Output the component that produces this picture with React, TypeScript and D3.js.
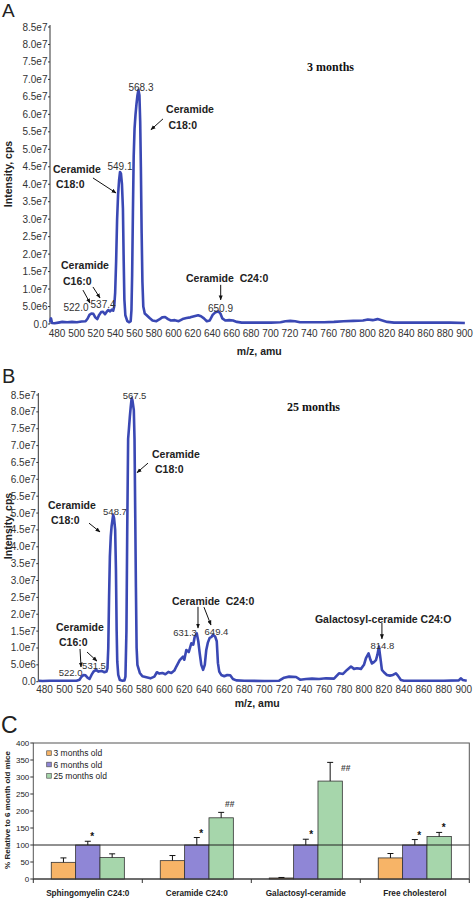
import React from 'react';
import * as d3 from 'd3';

const W = 474;
const H = 899;

// ---------- Spectra (m/z, intensity in units of 1e6 cps) ----------
const mzTicks = d3.range(480, 901, 20);
const intensityTicks = d3.range(0, 18).map((i) => i * 0.5e7);

const spectrumA: [number, number][] = [
  [477.4, 0.5], [478.4, 1.6], [479.4, 0.3], [482, 0.2], [486, 0.4], [490, 0.6], [495, 0.5], [500, 0.6],
  [505, 0.5], [510, 0.7], [514, 0.8], [516, 1.5], [518, 2.6], [520, 3.0], [522, 2.9], [524, 1.9],
  [526, 1.4], [528, 2.6], [530, 3.4], [532, 3.5], [534, 2.8], [536, 3.6], [537.5, 4.0], [539, 3.6],
  [541, 4.1], [542.5, 3.8], [543.5, 5], [544.5, 9], [545.5, 18], [546.5, 30], [547.5, 37], [548.5, 41],
  [549.5, 43.5], [550.5, 43], [551.5, 40], [552.5, 33], [553.3, 18], [554, 7], [555, 2.5], [557, 0.8],
  [559, 0.5], [560.5, 0.8], [561.3, 4], [562, 14], [562.8, 32], [563.6, 48], [564.5, 56], [565.5, 60],
  [566.5, 63], [567.5, 65.5], [568.5, 67], [569.5, 65.5], [570.3, 58], [571, 45], [571.8, 26], [572.6, 12],
  [573.5, 5], [575, 3], [577, 2.5], [580, 1.7], [583, 1.0], [587, 0.8], [590, 1.3], [593, 1.9],
  [596, 2.0], [599, 1.4], [602, 1.0], [606, 1.1], [610, 0.8], [614, 1.4], [618, 1.7], [622, 1.9],
  [626, 2.2], [630, 2.5], [633, 2.2], [636, 1.6], [639, 0.8], [642, 1.0], [645, 2.6], [648, 3.4],
  [651, 3.6], [653, 3.0], [655, 1.6], [658, 1.0], [662, 1.1], [666, 1.0], [670, 0.6], [675, 0.4],
  [690, 0.4], [705, 0.4], [715, 0.5], [720, 0.8], [725, 0.9], [730, 0.8], [735, 0.5], [745, 0.5],
  [760, 0.5], [770, 0.6], [780, 0.8], [790, 0.9], [800, 1.0], [805, 1.3], [810, 1.1], [815, 1.4],
  [820, 1.0], [825, 0.6], [832, 0.4], [845, 0.4], [860, 0.4], [875, 0.4], [890, 0.4], [905, 0.3],
];

const spectrumB: [number, number][] = [
  [474, 0.3], [478, 0.2], [485, 0.3], [495, 0.3], [505, 0.3], [512, 0.3], [515, 0.6], [517, 1.5],
  [519, 2.0], [521, 1.9], [523, 1.2], [525, 0.8], [527, 2.0], [529, 3.0], [531.5, 3.5], [534, 3.0],
  [537, 3.2], [540, 2.8], [542, 3.0], [543, 4], [543.8, 10], [544.6, 25], [545.4, 37], [546.3, 43],
  [547.1, 46], [548, 48], [548.7, 49.5], [549.6, 48.5], [550.7, 45], [551.5, 33], [552.2, 15], [552.8, 6],
  [553.8, 2], [555.4, 0.5], [558, 0.3], [560, 0.4], [561, 1.5], [562, 15], [562.8, 45], [563.7, 72],
  [564.5, 75], [565.4, 78.5], [566.3, 81.5], [567.2, 84], [568, 83.5], [569.4, 80.5], [570.1, 72], [570.8, 50],
  [571.5, 28], [572.2, 10], [573, 5], [575.4, 2.6], [578, 1.6], [582, 1.3], [586, 1.0], [590, 1.5],
  [592.5, 2.8], [595, 2.4], [598, 2.6], [601, 2.2], [604, 2.9], [607, 2.6], [610, 3.3], [612, 4.5],
  [615.4, 6.4], [618.7, 7.4], [620, 6.5], [622, 9.4], [624.5, 8.8], [627, 11.4], [629, 11], [630.4, 13.3],
  [632.5, 14.3], [634, 12], [635.4, 8.5], [637, 5], [638.8, 3.5], [640.5, 5], [642, 9.4], [643.5, 11.5],
  [645.4, 13], [647, 13.2], [648.7, 13.9], [651, 13.3], [652.5, 12], [653.7, 5.5], [655, 3], [657, 2],
  [660, 1.6], [663, 2], [666, 1.9], [668.7, 0.8], [672, 0.4], [680, 0.3], [700, 0.2], [715, 0.3],
  [720, 1.2], [725, 1.5], [732, 1.4], [736, 0.6], [742, 0.8], [748, 0.9], [755, 0.8], [762, 1.0],
  [770, 0.9], [775, 2.5], [779, 2.3], [783, 3.5], [787, 4.5], [790, 3.8], [793, 4.0], [797, 3.8],
  [800, 5.0], [802, 7.0], [804.6, 8.4], [806.5, 6.5], [808, 5.4], [810, 5.8], [812, 6.4], [813.5, 8],
  [815, 10.4], [816.5, 7], [818, 3.5], [820, 2.8], [823, 2.0], [826, 1.8], [829, 2.0], [832, 2.5],
  [834, 1.8], [837, 0.5], [840, 0.3], [860, 0.3], [880, 0.3], [895, 0.4], [897, 1.0], [899, 0.5], [903, 0.3],
];

type Note = { t: string; mz: number; v: number; b?: boolean; mid?: boolean };

// annotation anchors in data units (m/z, intensity x1e7)
const notesA: Note[] = [
  { t: '568.3', mz: 571.1, v: 6.66, mid: true },
  { t: 'Ceramide', mz: 597.0, v: 6.03, b: true },
  { t: 'C18:0', mz: 599.5, v: 5.57, b: true },
  { t: '549.1', mz: 549.5, v: 4.4, mid: true },
  { t: 'Ceramide', mz: 480.4, v: 4.31, b: true },
  { t: 'C18:0', mz: 483.5, v: 3.88, b: true },
  { t: 'Ceramide', mz: 488.7, v: 1.58, b: true },
  { t: 'C16:0', mz: 490.7, v: 1.13, b: true },
  { t: '522.0', mz: 504.1, v: 0.358, mid: true },
  { t: '537.4', mz: 532.0, v: 0.444, mid: true },
  { t: 'Ceramide  C24:0', mz: 617.5, v: 1.21, b: true },
  { t: '650.9', mz: 653.1, v: 0.33, mid: true },
];
const arrowsA: [number, number, number, number][] = [
  [593.8, 5.87, 581.4, 5.56],
  [521.6, 4.18, 545.4, 3.75],
  [511.3, 0.97, 518.6, 0.6],
  [521.6, 1.06, 528.9, 0.745],
  [653.3, 1.12, 653.3, 0.69],
];

const notesB: Note[] = [
  { t: '567.5', mz: 570.1, v: 8.38, mid: true },
  { t: 'Ceramide', mz: 587.6, v: 6.64, b: true },
  { t: 'C18:0', mz: 590.6, v: 6.2, b: true },
  { t: '548.7', mz: 550.5, v: 4.94, mid: true },
  { t: 'Ceramide', mz: 483.4, v: 5.13, b: true },
  { t: 'C18:0', mz: 486.4, v: 4.68, b: true },
  { t: 'Ceramide', mz: 491.4, v: 1.51, b: true },
  { t: 'C16:0', mz: 494.4, v: 1.05, b: true },
  { t: '522.0', mz: 506, v: 0.163, mid: true },
  { t: '531.5', mz: 529.5, v: 0.37, mid: true },
  { t: 'Ceramide  C24:0', mz: 607.7, v: 2.27, b: true },
  { t: '631.3', mz: 620.7, v: 1.36, mid: true },
  { t: '649.4', mz: 652.2, v: 1.38, mid: true },
  { t: 'Galactosyl-ceramide C24:O', mz: 750.9, v: 1.73, b: true },
  { t: '814.8', mz: 818.5, v: 0.955, mid: true },
];
const arrowsB: [number, number, number, number][] = [
  [583.6, 6.48, 572.6, 6.2],
  [524.5, 4.7, 535.5, 4.44],
  [515.5, 0.97, 516.5, 0.436],
  [522.5, 0.88, 532.5, 0.61],
  [633.7, 2.22, 633.7, 1.59],
  [639.7, 2.21, 646.7, 1.68],
  [818.0, 1.74, 818.0, 1.27],
];

// ---------- Bar chart ----------
const categories = ['Sphingomyelin C24:0', 'Ceramide C24:0', 'Galactosyl-ceramide', 'Free cholesterol'];
const seriesNames = ['3 months old', '6 months old', '25 months old'];
const seriesColors = ['#F7B467', '#8F86D6', '#A6D6AB'];
const means3 = [49, 54, 3, 62];
const errs3 = [13, 15, 1.5, 13];
const means6 = [100, 100, 100, 100];
const errs6 = [11, 22, 17, 16];
const means25 = [63, 180, 288, 125];
const errs25 = [11, 16, 55, 12];
const barTicks = d3.range(0, 401, 50);
// significance marks: category, series, text, level (data units, null = above error bar), dx px
const sigMarks: { c: number; s: number; t: string; level: number | null; dx: number }[] = [
  { c: 0, s: 1, t: '*', level: null, dx: 4.5 },
  { c: 1, s: 1, t: '*', level: null, dx: 4.5 },
  { c: 1, s: 2, t: '##', level: 222, dx: 8.5 },
  { c: 2, s: 1, t: '*', level: null, dx: 5.5 },
  { c: 2, s: 2, t: '##', level: 326, dx: 15.5 },
  { c: 3, s: 1, t: '*', level: null, dx: 4.5 },
  { c: 3, s: 2, t: '*', level: null, dx: 4.5 },
];

const SANS = '"Liberation Sans", Arial, sans-serif';
const SERIF = '"Liberation Serif", "Times New Roman", serif';
const LINE = '#3a48b4';

function fmtE(v: number) {
  if (v === 0) return '0.0';
  const e = Math.floor(Math.log10(v) + 1e-9);
  return (v / Math.pow(10, e)).toFixed(1) + 'e' + e;
}

type SpecProps = {
  data: [number, number][];
  x: d3.ScaleLinear<number, number>;
  y: d3.ScaleLinear<number, number>;
  axisLeft: number;
  labelDx: number;
  notes: Note[];
  arrows: [number, number, number, number][];
  title: string;
  titleMz: number;
  titleV: number;
  yTitleCenter: number;
  xTitleY: number;
  numSize: number;
  tickDy: number;
};

function Spectrum(p: SpecProps) {
  const { data, x, y, axisLeft, labelDx, notes, arrows } = p;
  const line = d3
    .line<[number, number]>()
    .x((d) => x(d[0]))
    .y((d) => y(d[1] * 1e6))
    .curve(d3.curveLinear);
  const y0 = y(0);
  const yTop = y(8.5e7);
  return (
    <g>
      <line x1={axisLeft} x2={axisLeft} y1={yTop - 2} y2={y0} stroke="#333" strokeWidth={1} />
      {intensityTicks.map((t) => (
        <g key={t}>
          <line x1={axisLeft - 2} x2={axisLeft} y1={y(t)} y2={y(t)} stroke="#333" />
          <text x={axisLeft - 2.5} y={y(t) + 3.5} textAnchor="end" fontSize={10} fill="#333" fontFamily={SANS}>
            {fmtE(t)}
          </text>
        </g>
      ))}
      {mzTicks.map((t) => (
        <text key={t} x={x(t) + labelDx} y={y0 + p.tickDy} textAnchor="middle" fontSize={10} fill="#333" fontFamily={SANS}>
          {t}
        </text>
      ))}
      <path d={line(data) || ''} fill="none" stroke={LINE} strokeWidth={2.6} strokeLinejoin="round" />
      {notes.map((n, i) => (
        <text
          key={i}
          x={x(n.mz)}
          y={y(n.v * 1e7)}
          textAnchor={n.mid ? 'middle' : 'start'}
          fontSize={n.b ? 10.5 : p.numSize}
          fontWeight={n.b ? 'bold' : 'normal'}
          fill={n.b ? '#222' : '#333'}
          fontFamily={SANS}
          style={{ whiteSpace: 'pre' }}
        >
          {n.t}
        </text>
      ))}
      {arrows.map((a, i) => (
        <line
          key={i}
          x1={x(a[0])}
          y1={y(a[1] * 1e7)}
          x2={x(a[2])}
          y2={y(a[3] * 1e7)}
          stroke="#111"
          strokeWidth={1}
          markerEnd="url(#ah)"
        />
      ))}
      <text x={x(p.titleMz)} y={y(p.titleV * 1e7)} fontSize={12} fontWeight="bold" fontFamily={SERIF} fill="#111">
        {p.title}
      </text>
      <text
        x={(x(480) + x(900)) / 2 + 3}
        y={p.xTitleY}
        textAnchor="middle"
        fontSize={10.5}
        fontWeight="bold"
        fontFamily={SANS}
        fill="#222"
      >
        m/z, amu
      </text>
      <text
        transform={`translate(11.5, ${p.yTitleCenter}) rotate(-90)`}
        textAnchor="middle"
        fontSize={10.5}
        fontWeight="bold"
        fontFamily={SANS}
        fill="#222"
      >
        Intensity, cps
      </text>
    </g>
  );
}

export default function App() {
  const xA = d3.scaleLinear().domain([480, 900]).range([52.6, 52.6 + 420 * 0.97]);
  const yA = d3.scaleLinear().domain([0, 8.5e7]).range([324, 27]);
  const xB = d3.scaleLinear().domain([480, 900]).range([44.6, 44.6 + 420 * 0.998]);
  const yB = d3.scaleLinear().domain([0, 8.5e7]).range([681.7, 395]);

  const cLeft = 33.3;
  const cRight = 469.3;
  const xC = d3.scaleBand<string>().domain(categories).range([cLeft, cRight]);
  const yC = d3.scaleLinear().domain([0, 400]).range([879, 743]);
  const barW = xC.bandwidth() * 0.2235;
  const barOff = (xC.bandwidth() - 3 * barW) / 2;
  const series = [
    { name: seriesNames[0], means: means3, errs: errs3, color: seriesColors[0] },
    { name: seriesNames[1], means: means6, errs: errs6, color: seriesColors[1] },
    { name: seriesNames[2], means: means25, errs: errs25, color: seriesColors[2] },
  ];
  const barX = (c: number, s: number) => (xC(categories[c]) as number) + barOff + s * barW;

  return (
    <svg
      width={W}
      height={H}
      viewBox={`0 0 ${W} ${H}`}
      style={{ position: 'absolute', left: 0, top: 0, display: 'block', background: '#fff' }}
    >
      <defs>
        <marker id="ah" viewBox="0 0 10 10" refX="9" refY="5" markerWidth="5" markerHeight="5" orient="auto">
          <path d="M0,1 L10,5 L0,9 z" fill="#111" />
        </marker>
      </defs>
      <rect x={0} y={0} width={W} height={H} fill="#fff" />

      {/* Panel letters */}
      <text x={2} y={17} fontSize={19} fontFamily={SANS} fill="#222">A</text>
      <text x={2} y={383} fontSize={20} fontFamily={SANS} fill="#222">B</text>
      <text x={1} y={733} fontSize={23} fontFamily={SANS} fill="#222">C</text>

      <Spectrum
        data={spectrumA}
        x={xA}
        y={yA}
        axisLeft={50}
        labelDx={4.5}
        notes={notesA}
        arrows={arrowsA}
        title="3 months"
        titleMz={742.3}
        titleV={7.23}
        yTitleCenter={174}
        xTitleY={355}
        numSize={10}
        tickDy={12.5}
      />
      <Spectrum
        data={spectrumB}
        x={xB}
        y={yB}
        axisLeft={38.3}
        labelDx={0}
        notes={notesB}
        arrows={arrowsB}
        title="25 months"
        titleMz={722.9}
        titleV={8.02}
        yTitleCenter={526}
        xTitleY={706.5}
        numSize={9.5}
        tickDy={11.5}
      />

      {/* Panel C */}
      <g>
        <rect x={cLeft} y={yC(400)} width={cRight - cLeft} height={yC(0) - yC(400)} fill="none" stroke="#555" strokeWidth={1} />
        {barTicks.map((t) => (
          <g key={t}>
            <line x1={cLeft - 3} x2={cLeft} y1={yC(t)} y2={yC(t)} stroke="#333" />
            <text x={cLeft - 4} y={yC(t) + 3} textAnchor="end" fontSize={8} fill="#222" fontFamily={SANS}>
              {t}
            </text>
          </g>
        ))}
        {d3.range(0, categories.length + 1).map((i) => {
          const xx = i < categories.length ? (xC(categories[i]) as number) : cRight;
          return <line key={i} x1={xx} x2={xx} y1={yC(0)} y2={yC(0) + 4} stroke="#333" />;
        })}
        {series.map((s, si) =>
          categories.map((c, ci) => {
            const bx = barX(ci, si);
            const top = yC(s.means[ci]);
            const et = yC(s.means[ci] + s.errs[ci]);
            const cx = bx + barW / 2;
            return (
              <g key={`${si}-${ci}`}>
                <rect x={bx} y={top} width={barW} height={yC(0) - top} fill={s.color} stroke="#333" strokeWidth={0.8} />
                <line x1={cx} x2={cx} y1={top} y2={et} stroke="#111" strokeWidth={1} />
                <line x1={cx - 3} x2={cx + 3} y1={et} y2={et} stroke="#111" strokeWidth={1} />
              </g>
            );
          })
        )}
        <line x1={cLeft} x2={cRight} y1={yC(100)} y2={yC(100)} stroke="#222" strokeWidth={1} />
        <line x1={cLeft} x2={cRight} y1={yC(0)} y2={yC(0)} stroke="#333" strokeWidth={1} />
        {sigMarks.map((m, i) => {
          const s = series[m.s];
          const cx = barX(m.c, m.s) + barW / 2 + m.dx;
          const cy = m.level === null ? yC(s.means[m.c] + s.errs[m.c]) - 7 : yC(m.level);
          return (
            <text
              key={i}
              x={cx}
              y={cy}
              textAnchor="middle"
              dominantBaseline="central"
              fontSize={m.t === '*' ? 10 : 8.5}
              fontWeight="bold"
              fill={m.t === '*' ? '#111' : '#444'}
              fontFamily={SANS}
              dy={m.t === '*' ? 2.5 : 0}
            >
              {m.t}
            </text>
          );
        })}
        {categories.map((c) => (
          <text
            key={c}
            x={(xC(c) as number) + xC.bandwidth() / 2}
            y={895.5}
            textAnchor="middle"
            fontSize={8.2}
            fontWeight="bold"
            fill="#222"
            fontFamily={SANS}
          >
            {c}
          </text>
        ))}
        {series.map((s, i) => (
          <g key={s.name}>
            <rect x={46.7} y={753.3 + i * 11.4 - 2.5} width={4.6} height={4.6} fill={s.color} stroke="#555" strokeWidth={0.7} />
            <text x={53.5} y={753.3 + i * 11.4 + 3} fontSize={8.5} fill="#222" fontFamily={SANS}>
              {s.name}
            </text>
          </g>
        ))}
        <text
          transform={`translate(9.5, 810) rotate(-90)`}
          textAnchor="middle"
          fontSize={8}
          fontWeight="bold"
          fill="#222"
          fontFamily={SANS}
        >
          % Relative to 6 month old mice
        </text>
      </g>
    </svg>
  );
}
